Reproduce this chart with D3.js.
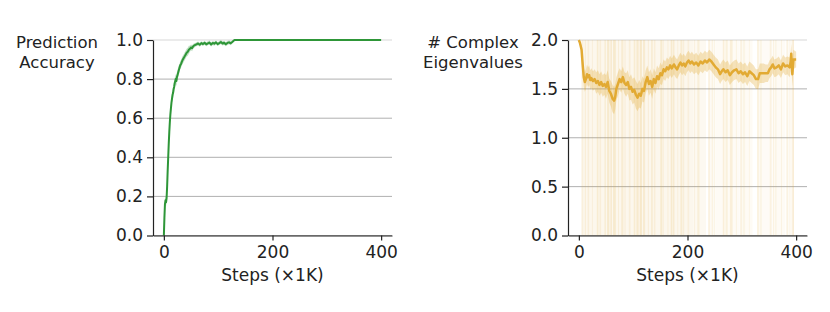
<!DOCTYPE html>
<meta charset="utf-8">
<style>
body { margin: 0; background: #fff; }
svg text { font-family: "DejaVu Sans", Verdana, sans-serif; fill: #222; }
.grid line { stroke: #b0b0b0; stroke-width: 1px; }
.axis path, .axis line { stroke: #222; stroke-width: 1.2px; }
.axis text { font-size: 17px; }
</style>
<body>
<script src="https://d3js.org/d3.v7.min.js"></script>
<script>

// prediction accuracy: [step (x1K), mean, half band]
var accuracy = [
  [0,0,0],[1,0.09,0.02],[2,0.16,0.02],[3,0.18,0.02],[4,0.17,0.02],[5,0.19,0.02],
  [6,0.25,0.02],[7,0.33,0.02],[8,0.40,0.02],[9,0.47,0.02],[10,0.53,0.02],[11,0.58,0.02],
  [12,0.62,0.02],[13,0.65,0.02],[14,0.68,0.02],[15,0.70,0.02],[16,0.72,0.025],[17,0.73,0.025],
  [18,0.75,0.025],[19,0.76,0.025],[20,0.78,0.025],[21,0.79,0.025],[22,0.80,0.025],[23,0.79,0.025],
  [24,0.81,0.025],[25,0.82,0.025],[26,0.83,0.025],[27,0.84,0.025],[28,0.85,0.025],[29,0.86,0.02],
  [30,0.87,0.02],[32,0.88,0.02],[34,0.895,0.02],[36,0.905,0.02],[38,0.915,0.02],[40,0.925,0.02],
  [42,0.935,0.02],[44,0.94,0.02],[46,0.95,0.02],[48,0.955,0.015],[50,0.962,0.015],[52,0.958,0.015],
  [54,0.968,0.012],[56,0.972,0.012],[58,0.975,0.01],[60,0.978,0.01],[63,0.982,0.01],[66,0.976,0.01],
  [69,0.984,0.01],[72,0.979,0.01],[75,0.986,0.01],[78,0.978,0.01],[81,0.983,0.01],[84,0.987,0.01],
  [87,0.977,0.01],[90,0.985,0.01],[93,0.981,0.01],[96,0.988,0.01],[99,0.979,0.01],[102,0.984,0.01],
  [105,0.99,0.01],[108,0.982,0.01],[111,0.986,0.01],[114,0.978,0.01],[117,0.985,0.01],[120,0.988,0.01],
  [123,0.983,0.01],[126,0.99,0.008],[128,0.995,0.004],[130,1.0,0],[400,1.0,0]
];

// number of complex eigenvalues: [step (x1K), mean, half band]
var eigen = [
  [0,2.0,0],[2,1.97,0.02],[5,1.9,0.05],[7,1.75,0.08],[9,1.62,0.1],[11,1.57,0.1],[13,1.60,0.1],
  [15,1.65,0.1],[17,1.62,0.1],[19,1.64,0.1],[21,1.59,0.1],[23,1.61,0.1],[26,1.58,0.1],[29,1.60,0.1],
  [32,1.56,0.11],[35,1.58,0.11],[38,1.54,0.11],[41,1.57,0.11],[44,1.53,0.11],[47,1.55,0.11],
  [50,1.52,0.12],[53,1.57,0.12],[56,1.48,0.12],[59,1.45,0.13],[62,1.40,0.14],[65,1.38,0.14],
  [67,1.42,0.13],[69,1.50,0.12],[72,1.55,0.12],[75,1.60,0.11],[78,1.57,0.11],[81,1.62,0.11],
  [84,1.56,0.11],[87,1.54,0.12],[90,1.57,0.12],[93,1.50,0.12],[96,1.52,0.13],[99,1.47,0.13],
  [102,1.49,0.13],[105,1.44,0.14],[108,1.41,0.14],[111,1.45,0.14],[114,1.43,0.13],[117,1.50,0.13],
  [120,1.48,0.12],[123,1.57,0.12],[126,1.62,0.12],[129,1.55,0.12],[132,1.58,0.12],[135,1.52,0.12],
  [138,1.60,0.11],[141,1.56,0.11],[144,1.63,0.11],[147,1.60,0.11],[150,1.66,0.11],[153,1.64,0.1],
  [156,1.70,0.1],[159,1.68,0.1],[162,1.72,0.1],[165,1.70,0.1],[168,1.74,0.1],[171,1.71,0.1],
  [175,1.75,0.1],[178,1.72,0.1],[181,1.70,0.1],[184,1.74,0.1],[187,1.77,0.1],[190,1.74,0.1],
  [193,1.76,0.1],[196,1.73,0.1],[199,1.77,0.1],[202,1.79,0.1],[205,1.76,0.1],[208,1.78,0.1],
  [212,1.75,0.1],[216,1.77,0.1],[220,1.74,0.1],[224,1.78,0.1],[228,1.76,0.1],[232,1.79,0.1],
  [236,1.77,0.1],[240,1.80,0.1],[244,1.78,0.1],[248,1.75,0.1],[252,1.72,0.1],[256,1.70,0.1],
  [260,1.65,0.1],[263,1.68,0.1],[266,1.70,0.1],[270,1.67,0.1],[274,1.69,0.1],[278,1.64,0.1],
  [282,1.67,0.1],[286,1.69,0.1],[290,1.70,0.1],[294,1.66,0.1],[298,1.68,0.1],[302,1.65,0.1],
  [306,1.67,0.1],[310,1.63,0.1],[314,1.68,0.1],[318,1.66,0.1],[322,1.64,0.1],[326,1.60,0.1],
  [330,1.60,0.1],[333,1.66,0.1],[336,1.66,0.1],[340,1.66,0.1],[344,1.66,0.09],[348,1.66,0.09],
  [351,1.70,0.09],[354,1.72,0.09],[357,1.75,0.09],[360,1.71,0.09],[364,1.72,0.09],[368,1.74,0.09],
  [372,1.70,0.09],[376,1.76,0.09],[380,1.73,0.09],[384,1.74,0.09],[388,1.72,0.1],[390,1.78,0.1],
  [391,1.86,0.1],[393,1.65,0.12],[395,1.80,0.1],[400,1.80,0.08]
];

// faint vertical bands behind the eigenvalue curve: [start step, end step, opacity]
var stripes = [
  [4,210,0.09],[6,8,0.1],[11,13,0.12],[16,19,0.1],[24,26,0.09],[33,36,0.14],[38,41,0.1],
  [47,50,0.12],[52,56,0.17],[58,61,0.15],[63,68,0.17],[72,74,0.1],[78,82,0.14],[84,86,0.1],
  [92,95,0.1],[101,104,0.14],[106,110,0.17],[112,116,0.19],[118,122,0.15],[127,129,0.1],
  [133,136,0.14],[138,141,0.1],[150,153,0.17],[154,156,0.14],[163,165,0.1],[169,172,0.17],
  [173,176,0.15],[181,183,0.09],[187,190,0.14],[191,194,0.1],[200,203,0.09],
  [210,234,0.07],[212,214,0.09],[218,222,0.12],[238,242,0.15],[244,247,0.14],[248,251,0.12],
  [252,296,0.05],[265,268,0.14],[270,274,0.12],[278,283,0.14],[289,291,0.09],
  [297,301,0.15],[302,306,0.12],[306,320,0.05],[313,315,0.07],[328,332,0.14],[333,337,0.12],
  [337,350,0.045],[351,355,0.15],[357,360,0.14],[361,364,0.12],[364,380,0.05],[372,374,0.09],
  [382,385,0.14],[386,388,0.1],[388,396,0.07],[393,396,0.15]
];

var accTicks = [0, 0.2, 0.4, 0.6, 0.8, 1.0];
var eigTicks = [0, 0.5, 1.0, 1.5, 2.0];
var stepTicks = [0, 200, 400];

var green = "#2e9638", orange = "#e2aa33";

var svg = d3.select("body").append("svg")
    .attr("width", 830)
    .attr("height", 312);

function panel(opt) {
  var x = d3.scaleLinear().domain([-20, 420]).range([opt.left, opt.left + 239]);
  var y = d3.scaleLinear().domain([0, opt.ymax]).range([235.5, 40]);
  var g = svg.append("g");

  // gridlines
  g.append("g").attr("class", "grid")
    .selectAll("line").data(opt.ticks).enter().append("line")
      .attr("x1", x.range()[0]).attr("x2", x.range()[1])
      .attr("y1", function(d) { return y(d); })
      .attr("y2", function(d) { return y(d); })
      .style("stroke-opacity", function(d) { return d == opt.ymax ? 0.5 : 1; });

  if (opt.stripes) {
    g.append("g").selectAll("rect").data(opt.stripes).enter().append("rect")
      .attr("x", function(d) { return x(d[0]); })
      .attr("width", function(d) { return x(d[1]) - x(d[0]); })
      .attr("y", y(opt.ymax))
      .attr("height", y(0) - y(opt.ymax))
      .attr("fill", opt.color)
      .attr("fill-opacity", function(d) { return d[2]; });
  }

  var band = d3.area()
    .x(function(d) { return x(d[0]); })
    .y0(function(d) { return y(Math.max(0, d[1] - d[2])); })
    .y1(function(d) { return y(Math.min(opt.ymax, d[1] + d[2])); });

  g.append("path").datum(opt.data)
    .attr("d", band)
    .attr("fill", opt.color)
    .attr("fill-opacity", 0.3);

  var line = d3.line()
    .x(function(d) { return x(d[0]); })
    .y(function(d) { return y(d[1]); });

  g.append("path").datum(opt.data)
    .attr("d", line)
    .attr("fill", "none")
    .attr("stroke", opt.color)
    .attr("stroke-width", opt.width)
    .attr("stroke-linejoin", "round");

  // axes
  g.append("g").attr("class", "axis")
    .attr("transform", "translate(" + opt.left + ",0)")
    .call(d3.axisLeft(y).tickValues(opt.ticks).tickFormat(d3.format(".1f"))
      .tickSize(6).tickPadding(4).tickSizeOuter(0));

  g.append("g").attr("class", "axis")
    .attr("transform", "translate(0," + y(0) + ")")
    .call(d3.axisBottom(x).tickValues(stepTicks).tickSize(5).tickPadding(5).tickSizeOuter(0));

  g.append("text")
    .attr("x", (x.range()[0] + x.range()[1]) / 2)
    .attr("y", 281)
    .attr("text-anchor", "middle")
    .style("font-size", "17px")
    .text("Steps (\u00d71K)");

  var lab = g.append("text")
    .attr("text-anchor", "middle")
    .style("font-size", "16.5px");
  opt.label.forEach(function(s, i) {
    lab.append("tspan").attr("x", opt.labelX).attr("y", 48 + i * 19.5).text(s);
  });
}

panel({left: 153, ymax: 1, ticks: accTicks, data: accuracy, color: green, width: 2,
       label: ["Prediction", "Accuracy"], labelX: 57});
panel({left: 568, ymax: 2, ticks: eigTicks, data: eigen, color: orange, width: 2.5,
       stripes: stripes, label: ["# Complex", "Eigenvalues"], labelX: 473});

</script>
</body>
